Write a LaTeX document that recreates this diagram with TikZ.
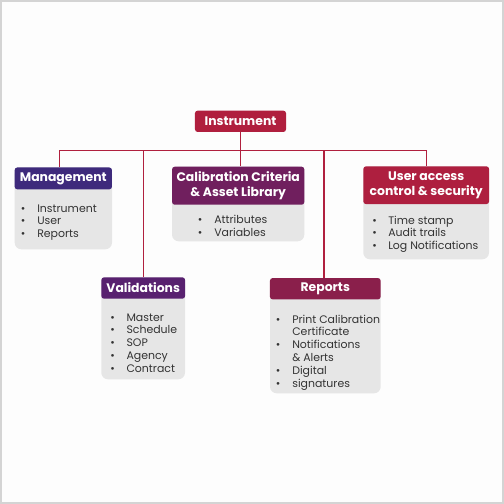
\documentclass[tikz,border=0pt]{standalone}
\usepackage{fontspec}
\setmainfont{Poppins}
\newcommand{\bodyfont}{\fontsize{8.2}{9.6}\selectfont}
\newcommand{\bl}{\textbullet}

\begin{document}
\begin{tikzpicture}[x=0.75pt,y=0.75pt,yscale=-1,xscale=1,
  hdr/.style={rounded corners=2, inner sep=0pt, align=center, text=white, font=\bfseries\fontsize{9.3}{10.7}\selectfont},
  body/.style={fill={rgb, 255:red, 230; green, 230; blue, 230 }, draw=none, rounded corners=5},
  link/.style={draw={rgb, 255:red, 176; green, 32; blue, 62 }, line width=0.8},
  items/.style={anchor=base west, inner sep=0pt, text={rgb, 255:red, 51; green, 51; blue, 51 }, font=\bodyfont}]
\useasboundingbox (0,0) rectangle (504,504);

%Frame
\draw [draw={rgb, 255:red, 212; green, 212; blue, 212 }, fill={rgb, 255:red, 253; green, 253; blue, 253 }, line width=1.5] (1,1) rectangle (503,503) ;

%Rounded Rect: gray bodies
\draw [body] (14.7,167.5) rectangle (112,249.3) ;
\draw [body] (172,166.7) rectangle (304.3,241.3) ;
\draw [body] (363.3,166.3) rectangle (489,259.3) ;
\draw [body] (101.3,277.3) rectangle (185,379.3) ;
\draw [body] (270,278) rectangle (380.7,393.3) ;

% Header Nodes
\draw (240.5,121.3) node (inst) [hdr, fill={rgb, 255:red, 176; green, 31; blue, 62 }, minimum width=68.3, minimum height=16] {Instrument};
\draw (63.3,178.4) node (mgmt) [hdr, fill={rgb, 255:red, 62; green, 42; blue, 124 }, minimum width=73, minimum height=16.4] {Management};
\draw (238.2,185.7) node (calib) [hdr, fill={rgb, 255:red, 112; green, 31; blue, 94 }, minimum width=99.2, minimum height=28.5] {Calibration Criteria\\\& Asset Library};
\draw (426.2,185.2) node (usr) [hdr, fill={rgb, 255:red, 174; green, 31; blue, 63 }, minimum width=94.3, minimum height=28.3] {User access\\control \& security};
\draw (143.2,288) node (valid) [hdr, fill={rgb, 255:red, 88; green, 33; blue, 111 }, minimum width=62.8, minimum height=16] {Validations};
\draw (325.3,288.7) node (rep) [hdr, fill={rgb, 255:red, 138; green, 31; blue, 75 }, minimum width=83, minimum height=16] {Reports};

%Connectors
\coordinate (bus) at (240.5,150.7) ;
\draw [link] (inst.south) -- (inst.south |- calib.north) ;
\draw [link] ([xshift=-3]mgmt.north) |- (bus) -| (usr.north) ;
\draw [link] (bus -| valid.north) -- (valid.north) ;
\draw [link] ([xshift=-1]bus -| rep.north) -- ([xshift=-1]rep.north) ;

% Text Node
\draw (20.5,212) node [items] {\begin{tabular}[t]{@{}p{12.4pt}@{}l@{}}
  \bl & Instrument\\ \bl & User\\ \bl & Reports
  \end{tabular}};
% Text Node
\draw (197.5,223.5) node [items] {\begin{tabular}[t]{@{}p{12.4pt}@{}l@{}}
  \bl & Attributes\\ \bl & Variables
  \end{tabular}};
% Text Node
\draw (372,224) node [items] {\begin{tabular}[t]{@{}p{12pt}@{}l@{}}
  \bl & Time stamp\\ \bl & Audit trails\\ \bl & Log Notifications
  \end{tabular}};
% Text Node
\draw (110,321) node [items] {\begin{tabular}[t]{@{}p{12.2pt}@{}l@{}}
  \bl & Master\\ \bl & Schedule\\ \bl & SOP\\ \bl & Agency\\ \bl & Contract
  \end{tabular}};
% Text Node
\draw (275.5,323) node [items] {\begin{tabular}[t]{@{}p{12.4pt}@{}l@{}}
  \bl & Print Calibration\\ & Certificate\\ \bl & Notifications\\ & \& Alerts\\ \bl & Digital\\ \bl & signatures
  \end{tabular}};

\end{tikzpicture}
\end{document}
